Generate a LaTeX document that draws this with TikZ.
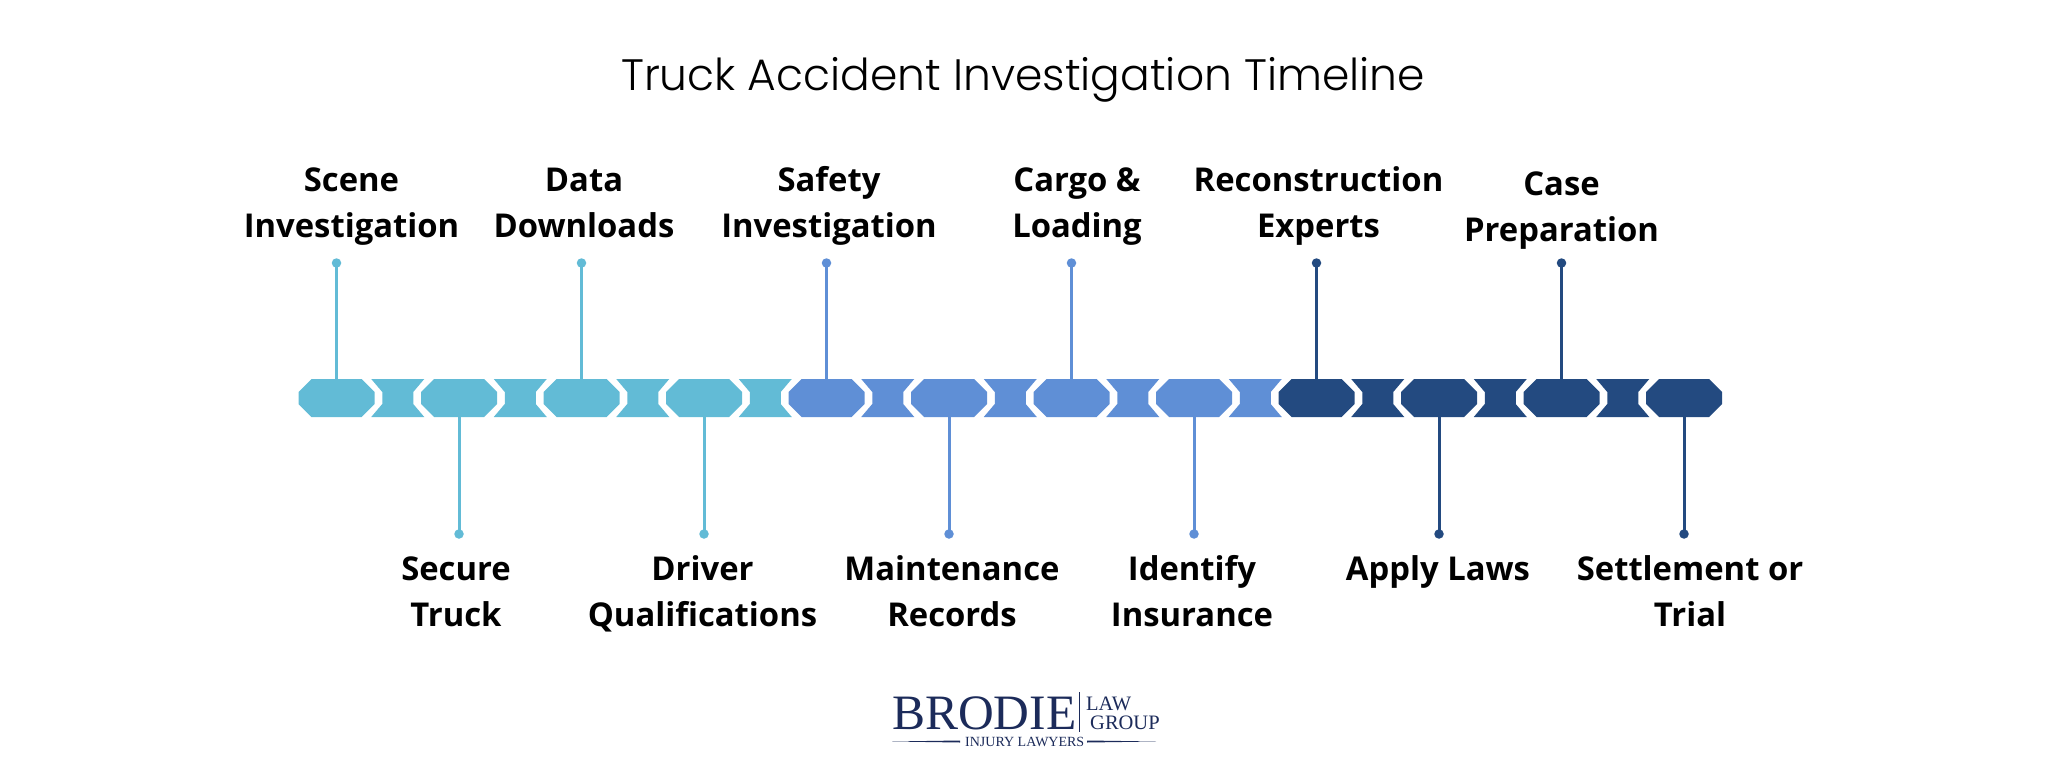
\documentclass[tikz,border=0pt]{standalone}
\usepackage{fontspec}
\setmainfont{Open Sans}
\newfontfamily\titlefont{Poppins Light}
\newfontfamily\logofont{Liberation Serif}
\definecolor{tealc}{HTML}{62BBD6}
\definecolor{bluec}{HTML}{5F8FD6}
\definecolor{navyc}{HTML}{234A80}
\definecolor{logoc}{HTML}{1C2B5A}
\newcommand{\octafill}[2]{%
  \fill[#2] ([xshift=13pt]#1.north west) -- ([xshift=-13pt]#1.north east)
    -- ([yshift=-13pt]#1.north east) -- ([yshift=13pt]#1.south east)
    -- ([xshift=-13pt]#1.south east) -- ([xshift=13pt]#1.south west)
    -- ([yshift=13pt]#1.south west) -- ([yshift=-13pt]#1.north west) -- cycle;}
\newcommand{\labtxt}[1]{\begin{tabular}[t]{@{}c@{}}#1\end{tabular}}
\tikzset{
  octa/.style={rectangle,minimum width=76pt,minimum height=38pt,inner sep=0pt,outer sep=0pt,draw=none},
  enddot/.style={circle,minimum size=9.5pt,inner sep=0pt,fill=#1},
  stem/.style={draw=#1,line width=3pt},
  lab/.style={font=\fontsize{32.8}{46}\bfseries\selectfont,text=black,inner sep=0pt,anchor=base},
  logo/.style={text=logoc,inner sep=0pt,anchor=base west},
}
\begin{document}
\begin{tikzpicture}[x=1pt,y=-1pt]
\useasboundingbox (0,0) rectangle (2048,768);
\fill[white] (0,0) rectangle (2048,768);
\node[font=\fontsize{44}{50}\selectfont\titlefont,inner sep=0pt] (title) at (1023,80) {Truck Accident Investigation Timeline};
% segments
\foreach \i/\c in {1/tealc,2/tealc,3/tealc,4/tealc,5/bluec,6/bluec,7/bluec,8/bluec,9/navyc,10/navyc,11/navyc,12/navyc}{
  \pgfmathsetmacro{\cx}{336.5+122.5*(\i-1)}
  \node[octa] (o\i) at (\cx,398) {};
  \octafill{o\i}{\c}
}
\foreach \i/\c in {1/tealc,2/tealc,3/tealc,4/tealc,5/bluec,6/bluec,7/bluec,8/bluec,9/navyc,10/navyc,11/navyc}{
  \pgfmathsetmacro{\mx}{336.5+122.5*(\i-1)+61.25}
  \fill[\c] (\mx-26.5,379) -- (\mx+26.5,379) -- (\mx+15.5,392) -- (\mx+15.5,404) -- (\mx+26.5,417) -- (\mx-26.5,417) -- (\mx-15.5,404) -- (\mx-15.5,392) -- cycle;
}
% stems up
\foreach \i/\c/\t/\lx/\ly in {
  1/tealc/{Scene\\Investigation}/351.5/191,
  3/tealc/{Data\\Downloads}/584/191,
  5/bluec/{Safety\\Investigation}/829/191,
  7/bluec/{Cargo \&\\Loading}/1077/191,
  9/navyc/{Reconstruction\\Experts}/1318.5/191,
  11/navyc/{Case\\Preparation}/1561.5/195}{
  \pgfmathsetmacro{\cx}{336.5+122.5*(\i-1)}
  \node[enddot=\c] (d\i) at (\cx,263) {};
  \draw[stem=\c] (o\i.north) -- (d\i.center);
  \node[lab] (l\i) at (\lx,\ly) {\labtxt{\t}};
}
\foreach \i/\c/\t/\lx/\ly in {
  2/tealc/{Secure\\Truck}/456/580,
  4/tealc/{Driver\\Qualifications}/702.5/580,
  6/bluec/{Maintenance\\Records}/952/580,
  8/bluec/{Identify\\Insurance}/1192/580,
  10/navyc/{Apply Laws}/1438/580,
  12/navyc/{Settlement or\\Trial}/1690/580}{
  \pgfmathsetmacro{\cx}{336.5+122.5*(\i-1)}
  \node[enddot=\c] (d\i) at (\cx,534) {};
  \draw[stem=\c] (o\i.south) -- (d\i.center);
  \node[lab] (l\i) at (\lx,\ly) {\labtxt{\t}};
}
% logo
\node[logo,font=\fontsize{49.5}{50}\logofont\selectfont] (brodie) at (892,729) {BRODIE};
\node[logo,font=\fontsize{20.5}{21}\logofont\selectfont] (law) at (1086,710) {LAW};
\node[logo,font=\fontsize{20.5}{21}\logofont\selectfont] (group) at (1090,729) {GROUP};
\node[logo,font=\fontsize{14}{15}\logofont\selectfont] (injury) at (965,746) {INJURY LAWYERS};
\fill[logoc] (1078.5,692) rectangle (1079.7,732);
\fill[logoc] (892,741.5) -- (960,740.5) -- (960,742.5) -- cycle;
\fill[logoc] (1156,741.5) -- (1087,740.5) -- (1087,742.5) -- cycle;
\end{tikzpicture}
\end{document}
